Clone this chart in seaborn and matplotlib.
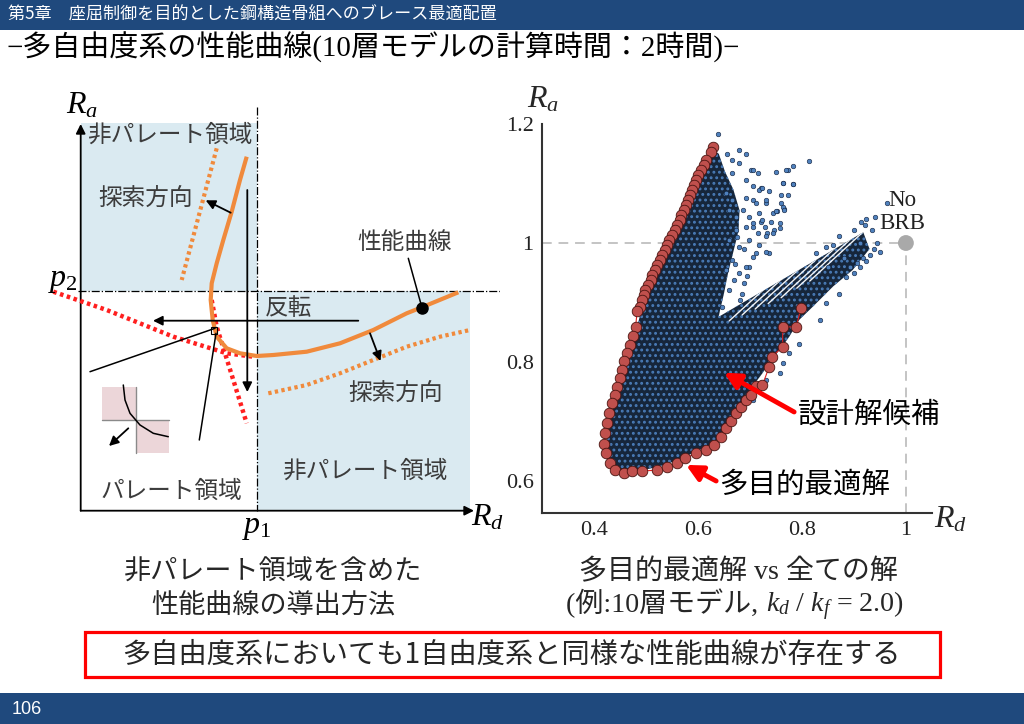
import numpy as np
import pandas as pd
import matplotlib
matplotlib.use("Agg")
import matplotlib.pyplot as plt
import seaborn as sns
from matplotlib.patches import Rectangle, Polygon

# ---------------- data ----------------
# right chart: ticks
x_ticks = [0.4, 0.6, 0.8, 1.0]
x_tick_labels = ["0.4", "0.6", "0.8", "1"]
y_ticks = [0.6, 0.8, 1.0, 1.2]
y_tick_labels = ["0.6", "0.8", "1", "1.2"]

# dense cloud of all solutions (outline of the region)
cloud_x = [0.624, 0.640, 0.652, 0.668, 0.680, 0.678, 0.668, 0.658, 0.650, 0.642, 0.640,
           0.918, 0.930,
           0.898, 0.860, 0.821, 0.795, 0.776, 0.757,
           0.740, 0.724, 0.705, 0.695, 0.682, 0.670, 0.657, 0.644, 0.628, 0.602, 0.583, 0.563,
           0.544, 0.525, 0.492, 0.473, 0.454, 0.441, 0.431, 0.425, 0.423, 0.427, 0.431, 0.438,
           0.446, 0.457, 0.465, 0.473, 0.483, 0.491, 0.502, 0.515, 0.528, 0.541, 0.554, 0.567,
           0.579, 0.592, 0.605, 0.618]
cloud_y = [1.159, 1.150, 1.120, 1.090, 1.055, 1.020, 0.985, 0.950, 0.915, 0.885, 0.876,
           1.018, 0.990,
           0.955, 0.927, 0.893, 0.871, 0.843, 0.820,
           0.803, 0.781, 0.759, 0.742, 0.719, 0.708, 0.691, 0.675, 0.661, 0.652, 0.644, 0.635,
           0.630, 0.624, 0.618, 0.616, 0.614, 0.618, 0.627, 0.641, 0.658, 0.680, 0.703, 0.725,
           0.747, 0.775, 0.803, 0.831, 0.859, 0.887, 0.915, 0.943, 0.971, 0.999, 1.022, 1.044,
           1.067, 1.089, 1.111, 1.137]

# empty gaps between the streaks of the right lobe (lower-left / upper-right ends)
gap_x0 = [0.660, 0.685, 0.710, 0.735, 0.760, 0.790, 0.815]
gap_y0 = [0.869, 0.879, 0.889, 0.898, 0.908, 0.924, 0.936]
gap_x1 = [0.728, 0.763, 0.798, 0.833, 0.868, 0.898, 0.923]
gap_y1 = [0.923, 0.941, 0.959, 0.977, 0.995, 1.010, 1.023]

# scattered solutions outside the dense core
sparse_x = [0.639, 0.679, 0.814, 0.665, 0.678, 0.702, 0.715, 0.751, 0.774, 0.782, 0.764, 0.782,
            0.721, 0.737, 0.760, 0.753, 0.766, 0.731, 0.747, 0.758, 0.732, 0.721, 0.963, 0.940,
            0.924, 0.914, 0.901, 0.872, 0.860, 0.930, 0.917, 0.905, 0.892, 0.901, 0.847, 0.827,
            0.666, 0.692, 0.718, 0.705, 0.744, 0.724, 0.757, 0.705, 0.731, 0.711, 0.698, 0.737,
            0.763, 0.885, 0.911, 0.924, 0.872, 0.847, 0.834, 0.795, 0.776, 0.763, 0.757, 0.731,
            0.718, 0.705, 0.769, 0.705, 0.692, 0.655,
            0.763, 0.782, 0.773, 0.724, 0.705, 0.692, 0.712, 0.731, 0.760, 0.750, 0.740, 0.766,
            0.718, 0.699, 0.728, 0.744, 0.715, 0.699, 0.718, 0.731, 0.705, 0.692, 0.679, 0.670,
            0.689, 0.660, 0.679, 0.673, 0.692, 0.660, 0.686, 0.705, 0.654, 0.666, 0.673, 0.660,
            0.666, 0.654, 0.647, 0.680, 0.688, 0.676, 0.684, 0.672, 0.695,
            0.944, 0.938, 0.950, 0.935, 0.922, 0.912, 0.880, 0.850]
sparse_y = [1.184, 1.157, 1.138, 1.139, 1.135, 1.123, 1.118, 1.120, 1.122, 1.129, 1.101, 1.099,
            1.092, 1.088, 1.081, 1.054, 1.057, 1.067, 1.022, 1.025, 1.016, 1.036, 1.067, 1.044,
            1.041, 1.036, 1.022, 1.011, 0.997, 0.980, 0.974, 0.966, 0.960, 0.949, 0.994, 0.983,
            1.117, 1.106, 1.089, 1.072, 1.050, 1.039, 1.033, 1.027, 1.011, 0.983, 0.960, 0.983,
            1.061, 0.943, 0.960, 0.969, 0.915, 0.899, 0.871, 0.831, 0.815, 0.798, 0.781, 0.770,
            0.753, 0.736, 1.123, 1.123, 1.150, 1.150,
            1.100, 1.099, 1.081, 1.092, 1.095, 1.075, 1.067, 1.072, 1.067, 1.053, 1.036, 1.055,
            1.050, 1.044, 1.027, 1.016, 1.016, 1.005, 0.997, 0.985, 0.977, 0.960, 0.949, 0.938,
            0.932, 0.921, 0.994, 1.022, 1.027, 1.055, 1.055, 1.033, 1.084, 1.072, 1.044, 1.005,
            0.971, 0.955, 0.893, 0.905, 0.990, 1.010, 0.915, 0.965, 0.945,
            1.000, 0.990, 0.985, 1.022, 1.030, 1.000, 0.975, 0.960]

# multi-objective optimal (Pareto) solutions
pareto_x = [0.628, 0.625, 0.615, 0.612, 0.605, 0.601, 0.597, 0.592, 0.589, 0.584, 0.581, 0.577,
            0.573, 0.568, 0.565, 0.560, 0.556, 0.550, 0.545, 0.541, 0.536, 0.531, 0.527, 0.522,
            0.517, 0.512, 0.509, 0.504, 0.499, 0.496, 0.492, 0.488, 0.483, 0.480, 0.476, 0.470,
            0.463, 0.457, 0.454, 0.451, 0.444, 0.441, 0.434, 0.429, 0.425, 0.422, 0.420, 0.423,
            0.431, 0.441, 0.457, 0.473, 0.492, 0.521, 0.541, 0.560, 0.576, 0.596, 0.615, 0.631,
            0.644, 0.654, 0.663, 0.673, 0.683, 0.692, 0.702, 0.711, 0.724, 0.737, 0.743, 0.763,
            0.763, 0.789, 0.798]
pareto_y = [1.162, 1.153, 1.139, 1.131, 1.123, 1.114, 1.106, 1.097, 1.089, 1.081, 1.072, 1.064,
            1.055, 1.047, 1.039, 1.030, 1.022, 1.013, 1.005, 0.997, 0.988, 0.980, 0.971, 0.963,
            0.955, 0.946, 0.938, 0.929, 0.921, 0.913, 0.904, 0.893, 0.885, 0.859, 0.843, 0.829,
            0.815, 0.801, 0.787, 0.773, 0.758, 0.745, 0.731, 0.714, 0.697, 0.680, 0.663, 0.647,
            0.630, 0.618, 0.613, 0.616, 0.617, 0.618, 0.624, 0.630, 0.638, 0.647, 0.652, 0.661,
            0.674, 0.689, 0.700, 0.714, 0.725, 0.736, 0.745, 0.759, 0.761, 0.792, 0.809, 0.826,
            0.859, 0.859, 0.890]

no_brb_x = [1.0]
no_brb_y = [1.0]

# left schematic (drawing units = slide pixels)
curve_x = [246.7, 240.0, 231.7, 223.3, 216.7, 211.7, 210.7, 212.7, 216.7, 226.7, 240.0, 256.7,
           273.3, 306.7, 340.0, 373.3, 406.7, 423.3, 458.3]
curve_y = [156.7, 180.0, 211.7, 240.0, 263.3, 283.3, 300.0, 320.0, 336.7, 348.3, 353.3, 356.0,
           355.0, 351.7, 343.3, 330.0, 313.3, 306.7, 292.3]
search_up_x = [216.7, 181.7]
search_up_y = [148.3, 280.0]
search_low_x = [268.3, 306.7, 340.0, 373.3, 406.7, 440.0, 470.0]
search_low_y = [393.3, 385.0, 373.3, 360.0, 346.7, 336.7, 330.0]
red_a_x = [53.3, 106.7, 173.3, 226.7, 253.3]
red_a_y = [291.7, 310.0, 336.7, 353.3, 356.7]
red_b_x = [211.7, 216.7, 233.3, 246.7]
red_b_y = [300.0, 326.7, 380.0, 423.3]
arc_x = [123.3, 125.0, 130.0, 140.0, 153.3, 168.3]
arc_y = [385.0, 400.0, 413.3, 425.0, 433.3, 436.7]

W, H = 1024, 724

# ---------------- style ----------------
sns.set_theme(style="white")
plt.rcParams["font.family"] = ["Noto Sans CJK JP", "DejaVu Sans"]
plt.rcParams["mathtext.fontset"] = "custom"
plt.rcParams["mathtext.rm"] = "Liberation Serif"
plt.rcParams["mathtext.it"] = "Liberation Serif:italic"
plt.rcParams["hatch.linewidth"] = 1.3

SERIF_MIX = ["Liberation Serif", "Noto Sans CJK JP"]
fig = plt.figure(figsize=(W / 100, H / 100), dpi=100)
fig.patch.set_facecolor("white")


def fx(x):
    return x / W


def fy(y):
    return 1 - y / H


# header / footer bars
fig.patches.append(Rectangle((0, fy(30)), 1, 30 / H, transform=fig.transFigure,
                             facecolor="#1f497d", edgecolor="none", zorder=0))
fig.patches.append(Rectangle((0, 0), 1, 31 / H, transform=fig.transFigure,
                             facecolor="#1f497d", edgecolor="none", zorder=0))
fig.text(fx(8), fy(15), "第5章　座屈制御を目的とした鋼構造骨組へのブレース最適配置",
         color="white", fontsize=12.3, va="center", ha="left")
fig.text(fx(12), fy(709), "106", color="white", fontsize=13, va="center", ha="left",
         family=["Liberation Sans"])
fig.text(fx(6), fy(47), "−多自由度系の性能曲線(10層モデルの計算時間：2時間)−",
         fontsize=20.9, va="center", ha="left", family=SERIF_MIX, color="black")

# ---------------- left schematic ----------------
ax1 = fig.add_axes([fx(40), fy(540), 460 / W, 460 / H])
ax1.set_xlim(40, 500)
ax1.set_ylim(540, 80)
ax1.axis("off")
blue = "#daeaf1"
ax1.add_patch(Rectangle((80.7, 123.3), 176.6, 167.4, facecolor=blue, edgecolor="none", zorder=0))
ax1.add_patch(Rectangle((257.3, 290.7), 212.7, 220.0, facecolor=blue, edgecolor="none", zorder=0))
ax1.plot([257.3, 257.3], [106.7, 510.7], color="black", lw=0.9, ls="-.", zorder=1)
ax1.plot([78, 500], [290.7, 290.7], color="black", lw=0.9, ls="-.", zorder=1)
arrow_k = dict(arrowstyle="-|>", color="black", lw=1.3, mutation_scale=14, shrinkA=0, shrinkB=0)
ax1.annotate("", xy=(80.7, 124), xytext=(80.7, 510.7), arrowprops=arrow_k)
ax1.annotate("", xy=(474, 510.7), xytext=(80.7, 510.7), arrowprops=arrow_k)

orange = "#f08a3c"
ax1.plot(search_up_x, search_up_y, color=orange, lw=3, ls=(0, (0.8, 0.8)), zorder=2)
ax1.plot(search_low_x, search_low_y, color=orange, lw=3, ls=(0, (0.8, 0.8)), zorder=2)
ax1.plot(red_a_x, red_a_y, color="#ff1f1f", lw=3.2, ls=(0, (0.8, 0.8)), zorder=3)
ax1.plot(red_b_x, red_b_y, color="#ff1f1f", lw=3.2, ls=(0, (0.8, 0.8)), zorder=3)
ax1.plot(curve_x, curve_y, color=orange, lw=3, zorder=4, solid_capstyle="butt")
ax1.plot([422.3], [307.7], "o", color="black", ms=8, zorder=6)

ax1.annotate("", xy=(247.3, 392), xytext=(247.3, 190), arrowprops=arrow_k, zorder=5)
ax1.annotate("", xy=(153, 320.7), xytext=(358.3, 320.7), arrowprops=arrow_k, zorder=5)
ax1.annotate("", xy=(205.7, 200.3), xytext=(230.7, 212.7), arrowprops=arrow_k, zorder=5)
ax1.annotate("", xy=(380.5, 361), xytext=(370, 333.3), arrowprops=arrow_k, zorder=5)
ax1.plot([408.3, 421.7], [258.3, 306.7], color="black", lw=1.1, zorder=5)
ax1.plot([215, 90], [328.3, 371.7], color="black", lw=1.1, zorder=5)
ax1.plot([216, 199.3], [333.3, 440], color="black", lw=1.1, zorder=5)
ax1.add_patch(Rectangle((210.7, 327.3), 6.6, 6.6, facecolor="none", edgecolor="black", lw=0.8, zorder=6))

pink = "#ecd6d9"
ax1.add_patch(Rectangle((102.3, 386.7), 33.4, 33.3, facecolor=pink, edgecolor="none", zorder=1))
ax1.add_patch(Rectangle((135.7, 420), 33.3, 32.7, facecolor=pink, edgecolor="none", zorder=1))
ax1.plot([102.3, 169], [420, 420], color="#8a8a8a", lw=1, zorder=2)
ax1.plot([135.7, 135.7], [386.7, 452.7], color="#8a8a8a", lw=1, zorder=2)
ax1.plot(arc_x, arc_y, color="black", lw=1.1, zorder=3)
ax1.annotate("", xy=(109, 446), xytext=(128.3, 428.3), arrowprops=arrow_k, zorder=5)

lab = dict(fontsize=17, color="#3c3c3c", ha="center", va="center", zorder=7)
ax1.text(170, 135, "非パレート領域", **lab)
ax1.text(146, 198.3, "探索方向", **lab)
ax1.text(405, 242.7, "性能曲線", **lab)
ax1.text(288.3, 308.3, "反転", **lab)
ax1.text(396, 393.3, "探索方向", **lab)
ax1.text(365, 471.7, "非パレート領域", **lab)
ax1.text(171.7, 491.7, "パレート領域", **lab)
mlab = dict(fontsize=23, color="black", ha="center", va="center", zorder=7)
ax1.text(81.7, 104, r"$R_a$", **mlab)
ax1.text(63, 279, r"$p_2$", **mlab)
ax1.text(256.7, 526, r"$p_1$", **mlab)
ax1.text(487, 516, r"$R_d$", **mlab)

# ---------------- right scatter ----------------
ax2 = fig.add_axes([fx(542), fy(513), 390 / W, 389 / H])
ax2.set_xlim(0.3, 1.0502)
ax2.set_ylim(0.5462, 1.2)
for s in ["top", "right"]:
    ax2.spines[s].set_visible(False)
for s in ["left", "bottom"]:
    ax2.spines[s].set_color("#333333")
    ax2.spines[s].set_linewidth(1.5)
ax2.set_xticks(x_ticks)
ax2.set_xticklabels(x_tick_labels)
ax2.set_yticks(y_ticks)
ax2.set_yticklabels(y_tick_labels)
ax2.tick_params(length=0, pad=6, labelsize=16, colors="#222222")
for t in ax2.get_xticklabels() + ax2.get_yticklabels():
    t.set_family("Liberation Serif")
ax2.set_facecolor("none")

ax2.plot([0.3, 1.0], [1.0, 1.0], color="#c4c4c4", lw=1.4, ls=(0, (5, 3.5)), zorder=1)
ax2.plot([1.0, 1.0], [0.5462, 1.0], color="#c4c4c4", lw=1.4, ls=(0, (5, 3.5)), zorder=1)
sns.scatterplot(x=no_brb_x, y=no_brb_y, s=130, color="#a9a9a9", edgecolor="none", ax=ax2, zorder=2)
ax2.text(0.993, 1.052, "No\nBRB", ha="center", va="center", fontsize=16.5,
         family="Liberation Serif", color="#222222", linespacing=1.1)

cloud = Polygon(np.column_stack([cloud_x, cloud_y]), closed=True, facecolor="#16263b",
                edgecolor="#4a7cb8", lw=0, hatch="...", zorder=3)
ax2.add_patch(cloud)
for a, b, c, d in zip(gap_x0, gap_y0, gap_x1, gap_y1):
    ln, = ax2.plot([a, c], [b, d], color="white", lw=1.0, alpha=0.95, zorder=3.5,
                   solid_capstyle="round")
    ln.set_clip_path(cloud)
sns.scatterplot(x=sparse_x, y=sparse_y, s=11, color="#4f81bd", edgecolor="#10203a",
                linewidth=0.4, ax=ax2, zorder=4)
ax2.plot(pareto_x, pareto_y, color="#e02020", lw=0.8, zorder=5)
sns.scatterplot(x=pareto_x, y=pareto_y, s=58, color="#c0504d", edgecolor="#4a1410",
                linewidth=0.6, ax=ax2, zorder=6)

red_arrow = dict(arrowstyle="-|>", color="#ff0000", lw=3.5, mutation_scale=24,
                 shrinkA=0, shrinkB=0)
ax2.annotate("", xy=(0.650, 0.782), xytext=(0.785, 0.716), arrowprops=red_arrow, zorder=8)
ax2.annotate("", xy=(0.577, 0.627), xytext=(0.635, 0.600), arrowprops=red_arrow, zorder=8)
fig.text(fx(798), fy(415), "設計解候補", fontsize=20.5, ha="left", va="center", color="black")
fig.text(fx(719), fy(485), "多目的最適解", fontsize=20.5, ha="left", va="center", color="black")
fig.text(fx(543), fy(98), r"$R_a$", fontsize=23, ha="center", va="center")
fig.text(fx(950), fy(518), r"$R_d$", fontsize=23, ha="center", va="center")

# ---------------- captions ----------------
fig.text(fx(273), fy(572), "非パレート領域を含めた", fontsize=19.5, ha="center", va="center")
fig.text(fx(273), fy(605), "性能曲線の導出方法", fontsize=19.5, ha="center", va="center")
fig.text(fx(738), fy(572), "多目的最適解 vs 全ての解", fontsize=20.2, ha="center", va="center",
         family=SERIF_MIX)

# second right caption built from pieces (CJK text + math)
renderer = fig.canvas.get_renderer()
pieces = [("(例:10層モデル, ", SERIF_MIX), (r"$k_d$ / $k_f$ = 2.0)", ["Liberation Serif"])]
objs = []
total = 0
for s, fam in pieces:
    t = fig.text(0, fy(612), s, fontsize=20.2, ha="left", va="baseline", family=fam)
    w = t.get_window_extent(renderer).width
    objs.append((t, w))
    total += w
x0 = 735 - total / 2
for t, w in objs:
    t.set_x(fx(x0))
    x0 += w

fig.patches.append(Rectangle((fx(85), fy(676.7)), 855 / W, 45 / H, transform=fig.transFigure,
                             facecolor="white", edgecolor="#ff0000", lw=2.3, zorder=1))
fig.text(fx(511), fy(655), "多自由度系においても1自由度系と同様な性能曲線が存在する",
         fontsize=20.3, ha="center", va="center", zorder=2)

fig.savefig("out.png", dpi=100)
